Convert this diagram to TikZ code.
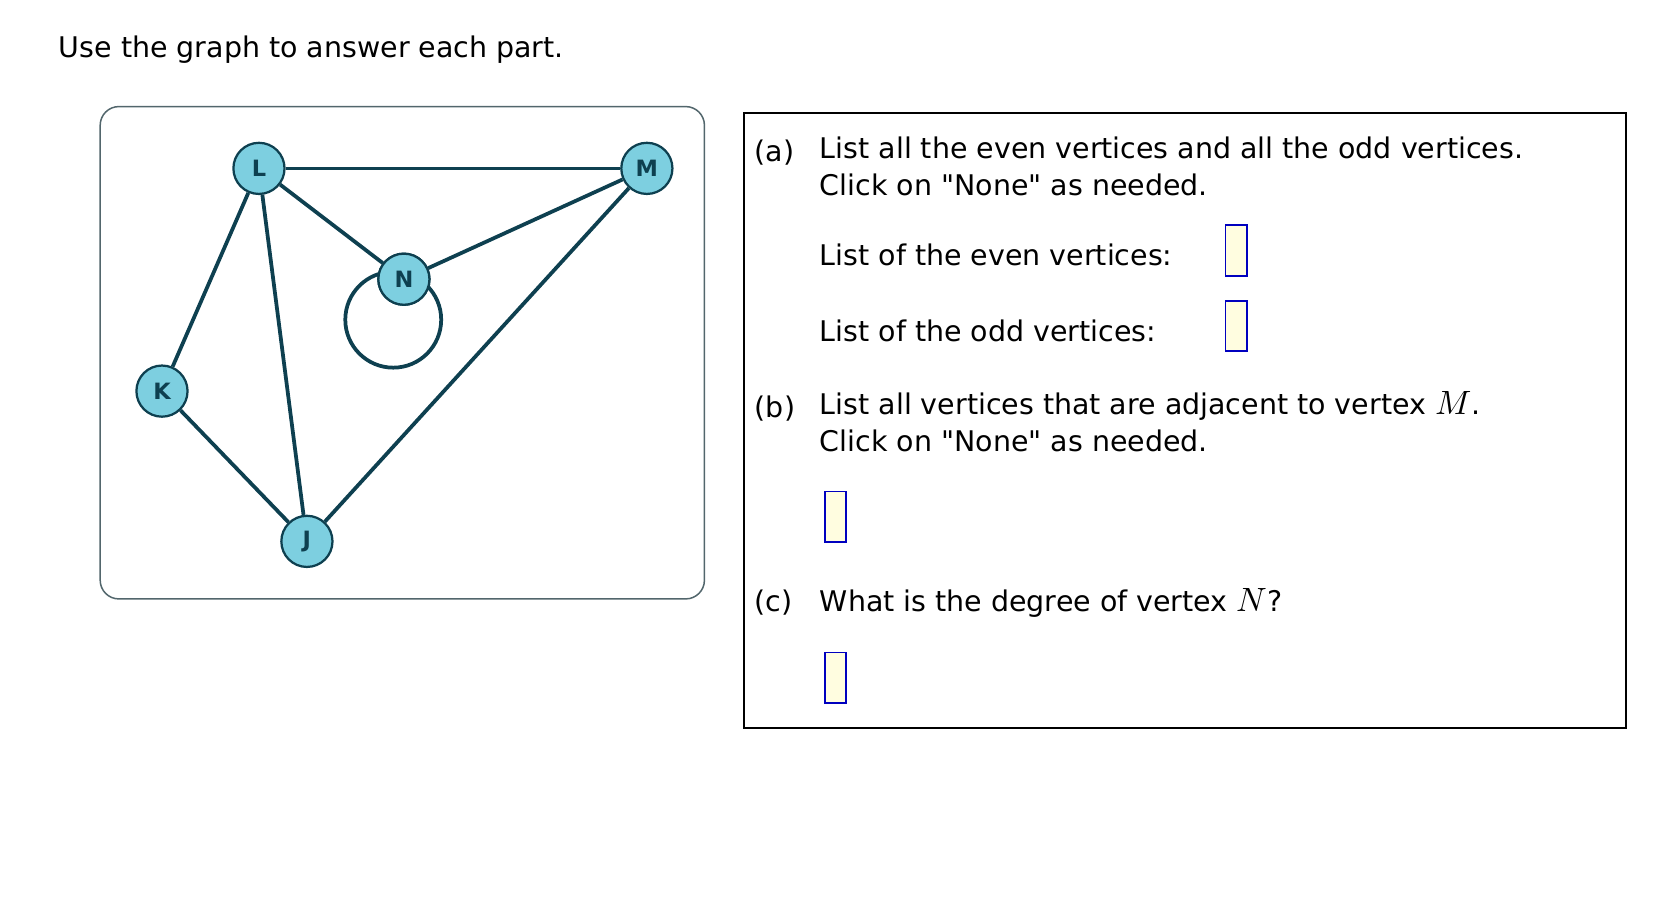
\documentclass[tikz,border=0pt]{standalone}
\usepackage{fontspec}
\setmainfont{DejaVu Sans}[Ligatures=TeXOff]
\usepackage{unicode-math}
\setmathfont{Latin Modern Math}
\newcommand\myq{"}
\begin{document}
\begin{tikzpicture}[x=0.02cm,y=-0.02cm,
  vtx/.style={circle,draw=edgec,line width=1.2pt,fill=vfill,minimum size=0.96cm,inner sep=0pt,font=\fontsize{12}{14}\selectfont\bfseries,text=edgec},
  edg/.style={draw=edgec,line width=2pt},
  txt/.style={anchor=base west,inner sep=0pt,font=\fontsize{15.2}{18}\selectfont},
  ansbox/.style={draw=blue!75!black,fill=yellow!12,line width=1pt,minimum width=0.4cm,minimum height=0.95cm,inner sep=0pt}]
\definecolor{edgec}{HTML}{0E4050}
\definecolor{vfill}{HTML}{7DCFE0}
\useasboundingbox (0,0) rectangle (1568,842);
\fill[white] (0,0) rectangle (1568,842);
\node[txt] (title) at (55,54) {Use the graph to answer each part.};
\draw[draw=gray!60!edgec,line width=0.8pt,rounded corners=10pt] (94,100) rectangle (661,562);
\node[vtx] (L) at (243,158) {L};
\node[vtx] (M) at (607,158) {M};
\node[vtx] (N) at (379,262) {N};
\node[vtx] (K) at (152,367) {K};
\node[vtx] (J) at (288,508) {J};
\draw[edg] (L) -- (M);
\draw[edg] (L) -- (N);
\draw[edg] (L) -- (K);
\draw[edg] (L) -- (J);
\draw[edg] (N) -- (M);
\draw[edg] (M) -- (J);
\draw[edg] (K) -- (J);
\coordinate (loopc) at (369,300);
\draw[edg] (loopc) circle (0.9cm);
\node[vtx] at (N) {N};
\draw[line width=1pt] (698,106) rectangle (1526,683);
\node[txt] (a) at (708,152) {(a)};
\node[txt] (a1) at (769,149) {List all the even vertices and all the odd vertices.};
\node[txt] (a2) at (769,183) {Click on \myq None\myq{} as needed.};
\node[txt] (a3) at (769,249) {List of the even vertices:};
\node[txt] (a4) at (769,320) {List of the odd vertices:};
\node[ansbox] (i1) at (1160,235) {};
\node[ansbox] (i2) at (1160,306) {};
\node[txt] (b) at (708,392) {(b)};
\node[txt] (b1) at (769,389) {List all vertices that are adjacent to vertex {\fontsize{18}{18}\selectfont$M$}.};
\node[txt] (b2) at (769,424) {Click on \myq None\myq{} as needed.};
\node[ansbox] (i3) at (784,485) {};
\node[txt] (c) at (708,574) {(c)};
\node[txt] (c1) at (769,574) {What is the degree of vertex {\fontsize{18}{18}\selectfont$N$}?};
\node[ansbox] (i4) at (784,636) {};
\end{tikzpicture}
\end{document}
